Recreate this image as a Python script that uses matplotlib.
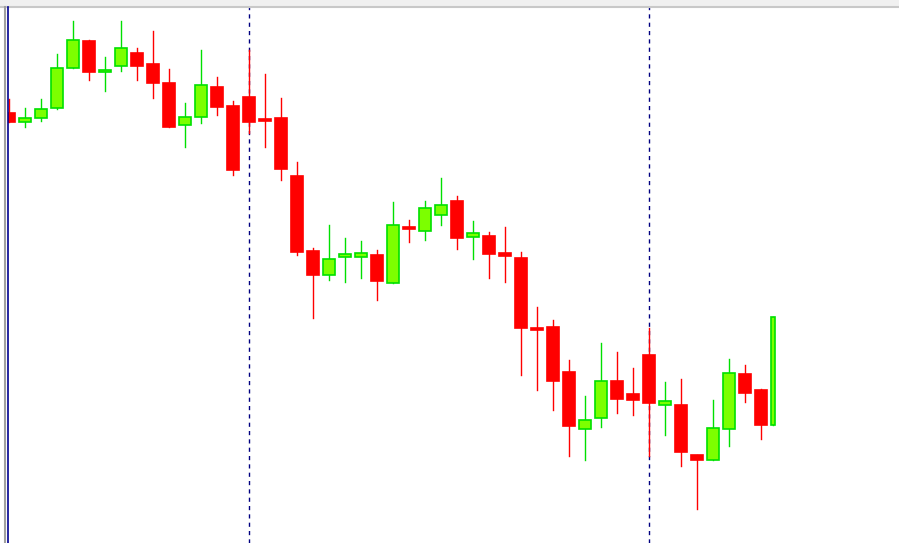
import matplotlib
matplotlib.use("Agg")
import matplotlib.pyplot as plt
from matplotlib.patches import Rectangle

# prices (arbitrary units)
opens  = [487,478,482,492,532,559,528,534,547,536,517,475,483,513,494,503,481,482,424,349,325,343,343,345,317,373,369,385,399,363,364,347,342,272,273,228,171,182,219,206,245,195,195,145,140,171,226,210,175]
closes = [478,482,491,532,560,528,530,552,534,517,473,483,515,493,430,478,479,431,348,325,341,346,347,319,375,371,392,395,362,367,346,344,272,270,219,174,180,219,201,200,197,199,148,140,172,227,207,175,283]
highs  = [501,492,501,546,579,560,543,579,552,569,531,497,550,523,499,550,526,502,438,352,375,362,359,350,398,380,399,422,404,379,368,373,348,293,280,240,204,257,248,232,272,218,221,145,200,241,235,211,283]
lows   = [478,473,479,491,532,520,509,529,520,502,473,453,477,485,425,467,453,420,345,282,320,318,322,300,317,358,360,375,351,341,322,318,225,210,190,144,140,173,187,185,144,165,134, 91,140,154,198,161,175]

fig = plt.figure(figsize=(8.99, 5.43), dpi=100)
fig.patch.set_facecolor("white")
ax = fig.add_axes([8/899, 0, 891/899, 536/543])
ax.set_xlim(-1/16, 890/16)
ax.set_ylim(57, 593)
ax.axis("off")

green_fill, green_edge, red = "#7cff00", "#00e000", "#ff0000"
n = len(opens)
for i in range(n):
    o, c, h, l = opens[i], closes[i], highs[i], lows[i]
    up = c >= o
    col = green_edge if up else red
    w = 0.72 if i < n - 1 else 0.2
    x = i if i < n - 1 else i - 0.25
    ax.plot([x, x], [l, h], color=col, lw=1, zorder=1)
    lo, hi = min(o, c), max(o, c)
    hgt = max(hi - lo, 1.5)
    ax.add_patch(Rectangle((x - w/2, lo), w, hgt,
                           facecolor=green_fill if up else red,
                           edgecolor=col, lw=1.2, zorder=2))

for vx in [15, 40]:
    ax.axvline(vx, color="#000080", lw=1, ls=(0, (3, 3)), zorder=0)

# window chrome
fig.add_artist(plt.Rectangle((0, 536/543), 1, 7/543, transform=fig.transFigure,
                             facecolor="#f0f0f0", edgecolor="none"))
fig.add_artist(plt.Line2D([0, 1], [536/543, 536/543], transform=fig.transFigure, color="#c8c8c8", lw=1.5))
fig.add_artist(plt.Line2D([4.5/899, 4.5/899], [0, 536/543], transform=fig.transFigure, color="#a0a0a0", lw=1.5))
fig.add_artist(plt.Line2D([8/899, 8/899], [0, 536/543], transform=fig.transFigure, color="#000090", lw=1.2))

fig.savefig("out.png", dpi=100)
